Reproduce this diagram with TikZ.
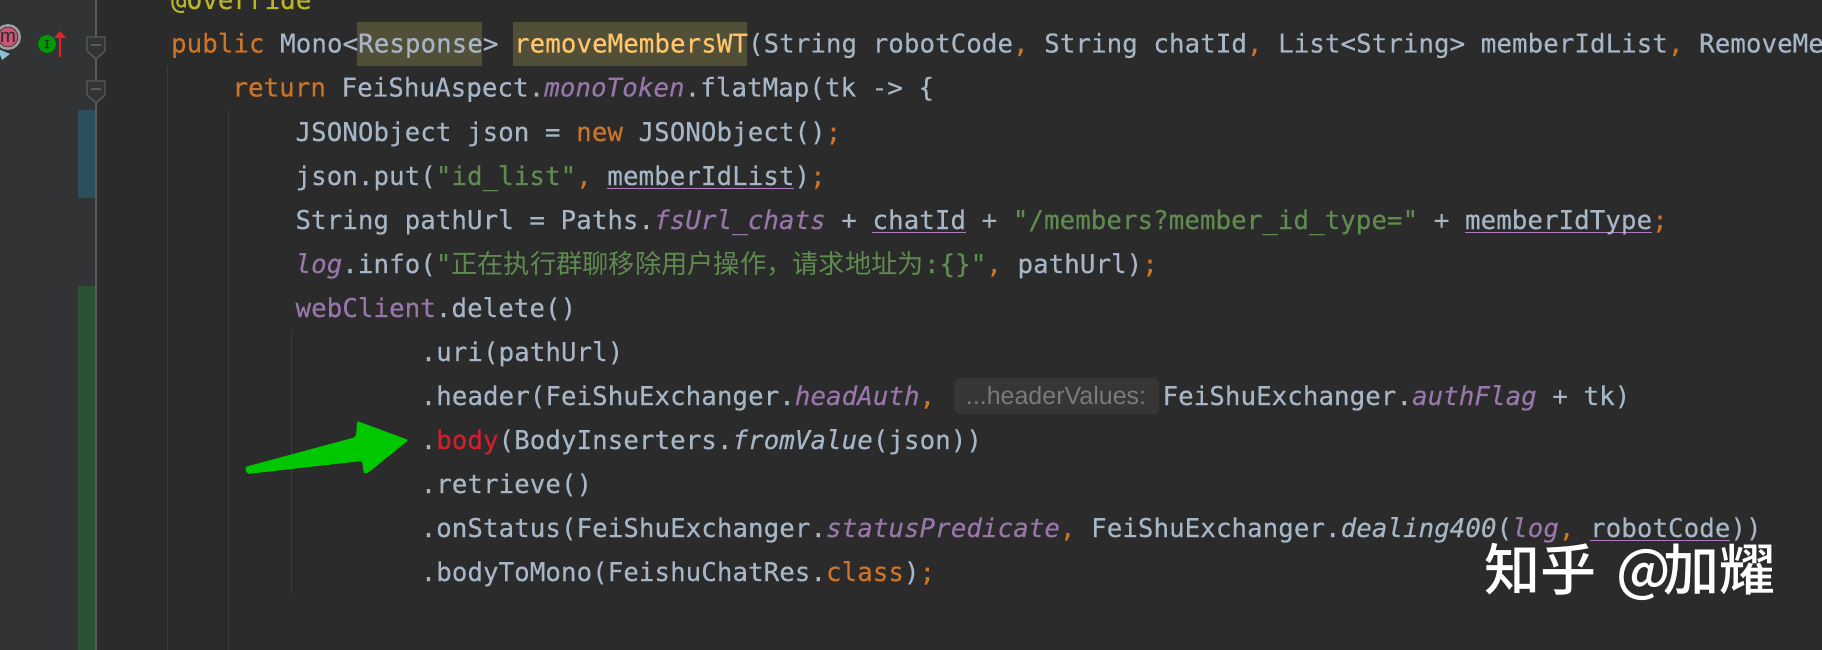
\documentclass[tikz,border=0pt]{standalone}
\usepackage{fontspec}
\newfontfamily\code[FakeBold=0.2]{DejaVu Sans Mono}
\newfontfamily\cjk{Noto Sans CJK SC}
\newfontfamily\cjkb{Noto Sans CJK SC Medium}
\newfontfamily\hintfont{Liberation Sans}
\definecolor{bg}{HTML}{2B2B2B}
\definecolor{gut}{HTML}{313335}
\definecolor{gutline}{HTML}{5A5A5A}
\definecolor{guide}{HTML}{3C3C3C}
\definecolor{fg}{HTML}{A6B6C6}
\definecolor{kw}{HTML}{CC7428}
\definecolor{str}{HTML}{5F8A50}
\definecolor{fld}{HTML}{9876AA}
\definecolor{anno}{HTML}{BBB529}
\definecolor{meth}{HTML}{FFC66D}
\definecolor{pl}{HTML}{B07CC0}
\definecolor{redb}{HTML}{D0202F}
\definecolor{hl}{HTML}{524F38}
\definecolor{blueb}{HTML}{2C4F5E}
\definecolor{greenb}{HTML}{2B5233}
\definecolor{pillbg}{HTML}{363636}
\definecolor{pillfg}{HTML}{7A7A7A}
\definecolor{arrowg}{HTML}{00C800}
\definecolor{pinkm}{HTML}{C75674}
\newcommand{\K}[1]{\textcolor{kw}{#1}}
\newcommand{\St}[1]{\textcolor{str}{#1}}
\newcommand{\F}[1]{\textcolor{fld}{\itshape #1}}
\newcommand{\plink}[1]{\sbox0{#1}\textcolor{pl}{\rlap{\rule[-4pt]{\wd0}{1.4pt}}\usebox0}}
\tikzset{
  x=1pt,y=-1pt,
  codeline/.style={anchor=base west,inner sep=0pt,outer sep=0pt,text=fg,font=\code\fontsize{25.9}{30}\selectfont},
  guideline/.style={draw=guide,line width=1pt},
  foldmark/.style={draw=gutline,line width=1.3pt,fill=gut},
}
\begin{document}
\begin{tikzpicture}
\useasboundingbox (0,0) rectangle (1822,650);
\clip (0,0) rectangle (1822,650);
\fill[bg] (0,0) rectangle (1822,650);
\fill[gut] (0,0) rectangle (96,650);
\fill[blueb] (78,110) rectangle (95,198);
\fill[greenb] (78,286) rectangle (95,650);
\draw[gutline,line width=1.2pt] (96,0) -- (96,650);
% fold markers
\draw[foldmark] (87,37) -- (105,37) -- (105,51) -- (96,59) -- (87,51) -- cycle;
\draw[gutline,line width=1.3pt] (91,45) -- (101,45);
\draw[foldmark] (87,81) -- (105,81) -- (105,95) -- (96,103) -- (87,95) -- cycle;
\draw[gutline,line width=1.3pt] (91,89) -- (101,89);
% gutter icons
\fill[gray!75] (8,37) circle (13);
\node[circle,fill=pinkm,draw=bg,line width=0.6pt,minimum size=20pt,inner sep=0pt,font=\hintfont\fontsize{19}{19}\selectfont,text=bg] (micon) at (8,37) {m};
\fill[fg!85!cyan] (-2,49) -- (10,54) -- (2,60) -- cycle;
\node[circle,fill=green!60!black,minimum size=18pt,inner sep=0pt,font=\code\fontsize{11}{11}\selectfont,text=bg] (iicon) at (47,44) {I};
\coordinate (ibot) at (60,57);
\coordinate (itop) at (60,36);
\draw[red!70!gray,line width=2.4pt] (ibot) -- (itop);
\fill[red!70!gray] (54,38) -- (60,31) -- (66,38) -- cycle;
% highlight
\fill[hl] (357,22) rectangle (482,66);
\fill[hl] (513,22) rectangle (747,66);
% indent guides
\draw[guideline] (167,66) -- (167,650);
\draw[guideline] (228,110) -- (228,650);
\draw[guideline] (291,330) -- (291,594);
% code
\node[codeline] (l0) at (171,9) {\textcolor{anno}{@Override}};
\node[codeline] (l1) at (171,52.5) {\K{public} Mono<Response> \textcolor{meth}{removeMembersWT}(String robotCode\K{,} String chatId\K{,} List<String> memberIdList\K{,} RemoveMe};
\node[codeline] (l2) at (232.4,96.5) {\K{return} FeiShuAspect.\F{monoToken}.flatMap(tk -> \{};
\node[codeline] (l3) at (295.5,141) {JSONObject json = \K{new} JSONObject()\K{;}};
\node[codeline] (l4) at (295.5,185) {json.put(\St{"id\_list"}\K{,} \plink{memberIdList})\K{;}};
\node[codeline] (l5) at (295.5,229) {String pathUrl = Paths.\F{fsUrl\_chats} + \plink{chatId} + \St{"/members?member\_id\_type="} + \plink{memberIdType}\K{;}};
\node[codeline] (l6) at (295.5,273) {\F{log}.info(\St{"{\cjk\fontsize{26.25}{30}\selectfont 正在执行群聊移除用户操作，请求地址为}:\{\}"}\K{,} pathUrl)\K{;}};
\node[codeline] (l7) at (295.5,317) {\textcolor{fld}{webClient}.delete()};
\node[codeline] (l8) at (420.6,361) {.uri(pathUrl)};
\node[codeline] (l9) at (420.6,405) {.header(FeiShuExchanger.\F{headAuth}\K{,}};
\node[fill=pillbg,rounded corners=6pt,minimum width=205pt,minimum height=36pt,inner sep=0pt,anchor=north west] (pill) at (954,378) {};
\node[anchor=base,inner sep=0pt,text=pillfg,font=\hintfont\fontsize{25}{26}\selectfont] (hint) at (1056,404) {...headerValues:};
\node[codeline] (l9b) at (1162.5,405) {FeiShuExchanger.\F{authFlag} + tk)};
\node[codeline] (l10) at (420.6,449) {.\textcolor{redb}{body}(BodyInserters.{\itshape fromValue}(json))};
\node[codeline] (l11) at (420.6,493) {.retrieve()};
\node[codeline] (l12) at (420.6,537) {.onStatus(FeiShuExchanger.\F{statusPredicate}\K{,} FeiShuExchanger.{\itshape dealing400}(\F{log}\K{,} \plink{robotCode}))};
\node[codeline] (l13) at (420.6,581) {.bodyToMono(FeishuChatRes.\K{class})\K{;}};
% arrow
\fill[arrowg,rounded corners=2pt] (245,467) -- (247,474) -- (362,461) -- (364,474) -- (369,472) -- (408.5,440) -- (357,421) -- (356,437) -- cycle;
% watermark
\node[anchor=base west,inner sep=0pt,text=white,font=\cjkb\fontsize{56}{60}\selectfont] (wm) at (1484,590) {知乎\hspace{20pt}@\hspace{-7pt}加耀};
\end{tikzpicture}
\end{document}
